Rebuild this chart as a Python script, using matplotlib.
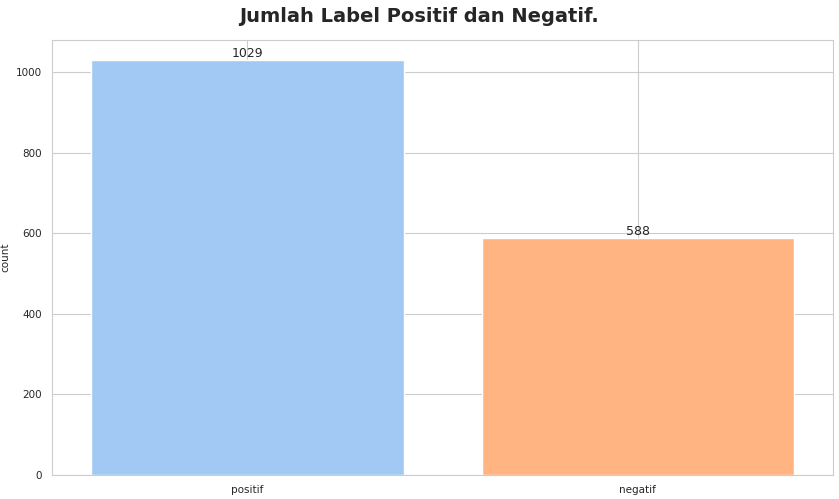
import matplotlib
matplotlib.use("Agg")
import matplotlib.pyplot as plt
import seaborn as sns

sns.set_style("whitegrid")

labels = ["positif", "negatif"]
counts = [1029, 588]
colors = sns.color_palette("pastel")[:2]

fig = plt.figure(figsize=(8.39, 4.99), dpi=100)
ax = fig.add_axes([0.062, 0.048, 0.931, 0.872])

x = range(len(labels))
bars = ax.bar(x, counts, width=0.8, color=colors)
ax.set_xticks(list(x))
ax.set_xticklabels(labels, fontsize=7.5)
ax.tick_params(axis="y", labelsize=7.5)
ax.set_xlim(-0.5, 1.5)
ax.set_ylim(0, 1080)
ax.set_ylabel("count", fontsize=7.5)
ax.set_xlabel("")

for rect, c in zip(bars, counts):
    ax.text(rect.get_x() + rect.get_width() / 2, c, str(c),
            ha="center", va="bottom", fontsize=9, color="#262626")

for s in ax.spines.values():
    s.set_color("#cccccc")

fig.suptitle("Jumlah Label Positif dan Negatif.", fontsize=14, fontweight="bold",
             color="#262626", y=0.985)

fig.savefig("out.png", dpi=100)
